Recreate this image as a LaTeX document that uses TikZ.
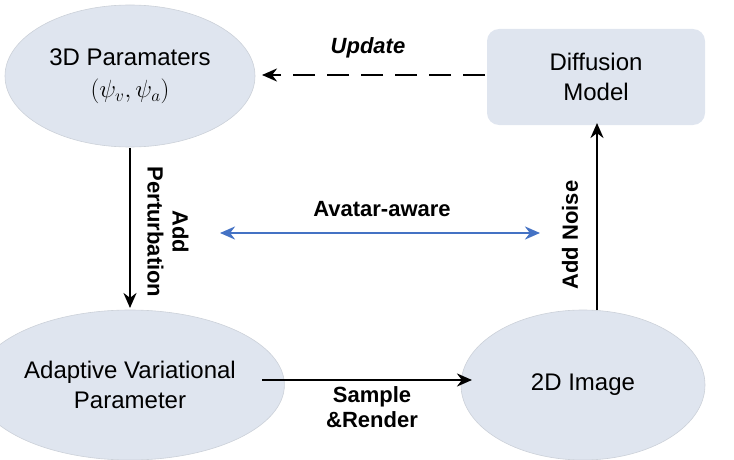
\documentclass[tikz,border=0pt]{standalone}
\usepackage{fontspec}
\setmainfont{Liberation Sans}
\usetikzlibrary{shapes.geometric,arrows.meta}
\definecolor{fillc}{HTML}{DFE5EF}
\definecolor{bluec}{HTML}{4472C4}
\begin{document}
\begin{tikzpicture}[x=1pt,y=-1pt,
  ell/.style={ellipse,fill=fillc,draw=fillc!80!gray,line width=0.6pt,align=center,font=\fontsize{24}{30}\selectfont},
  arr/.style={line width=2.8pt,-{Stealth[length=15pt,width=13pt]}},
  lab/.style={font=\bfseries\fontsize{22}{25}\selectfont,align=center}]
\useasboundingbox (0,0) rectangle (734,460);
\node[ell,minimum width=250,minimum height=142] (p) at (130,76) {3D Paramaters\\[2pt]$(\psi_v,\psi_a)$};
\node[fill=fillc,rounded corners=12pt,minimum width=218,minimum height=96,align=center,font=\fontsize{24}{30}\selectfont] (d) at (596,77) {Diffusion\\Model};
\node[ell,minimum width=262,minimum height=150] (a) at (130,385) {Adaptive Variational\\Parameter};
\node[ell,minimum width=244,minimum height=150] (i) at (583,385) {2D Image};
\coordinate (u1) at (485,75); \coordinate (u2) at (262,75);
\draw[arr,dash pattern=on 22pt off 12pt] (u1) -- (u2);
\node[lab,font=\bfseries\itshape\fontsize{22}{25}\selectfont] (ul) at (368,48) {Update};
\coordinate (v1) at (130,148); \coordinate (v2) at (130,308);
\draw[arr] (v1) -- (v2);
\node[lab,rotate=-90] (vl) at (168,232) {Add\\Perturbation};
\coordinate (w1) at (597,310); \coordinate (w2) at (597,123);
\draw[arr] (w1) -- (w2);
\node[lab,rotate=90] (wl) at (570,235) {Add Noise};
\coordinate (h1) at (262,380); \coordinate (h2) at (472,380);
\draw[arr] (h1) -- (h2);
\node[lab] (hl) at (372,407) {Sample\\\&Render};
\coordinate (b1) at (220,233); \coordinate (b2) at (540,233);
\draw[line width=2.8pt,color=bluec,{Stealth[length=15pt,width=13pt]}-{Stealth[length=15pt,width=13pt]}] (b1) -- (b2);
\node[lab] (bl) at (382,209) {Avatar-aware};
\end{tikzpicture}
\end{document}
